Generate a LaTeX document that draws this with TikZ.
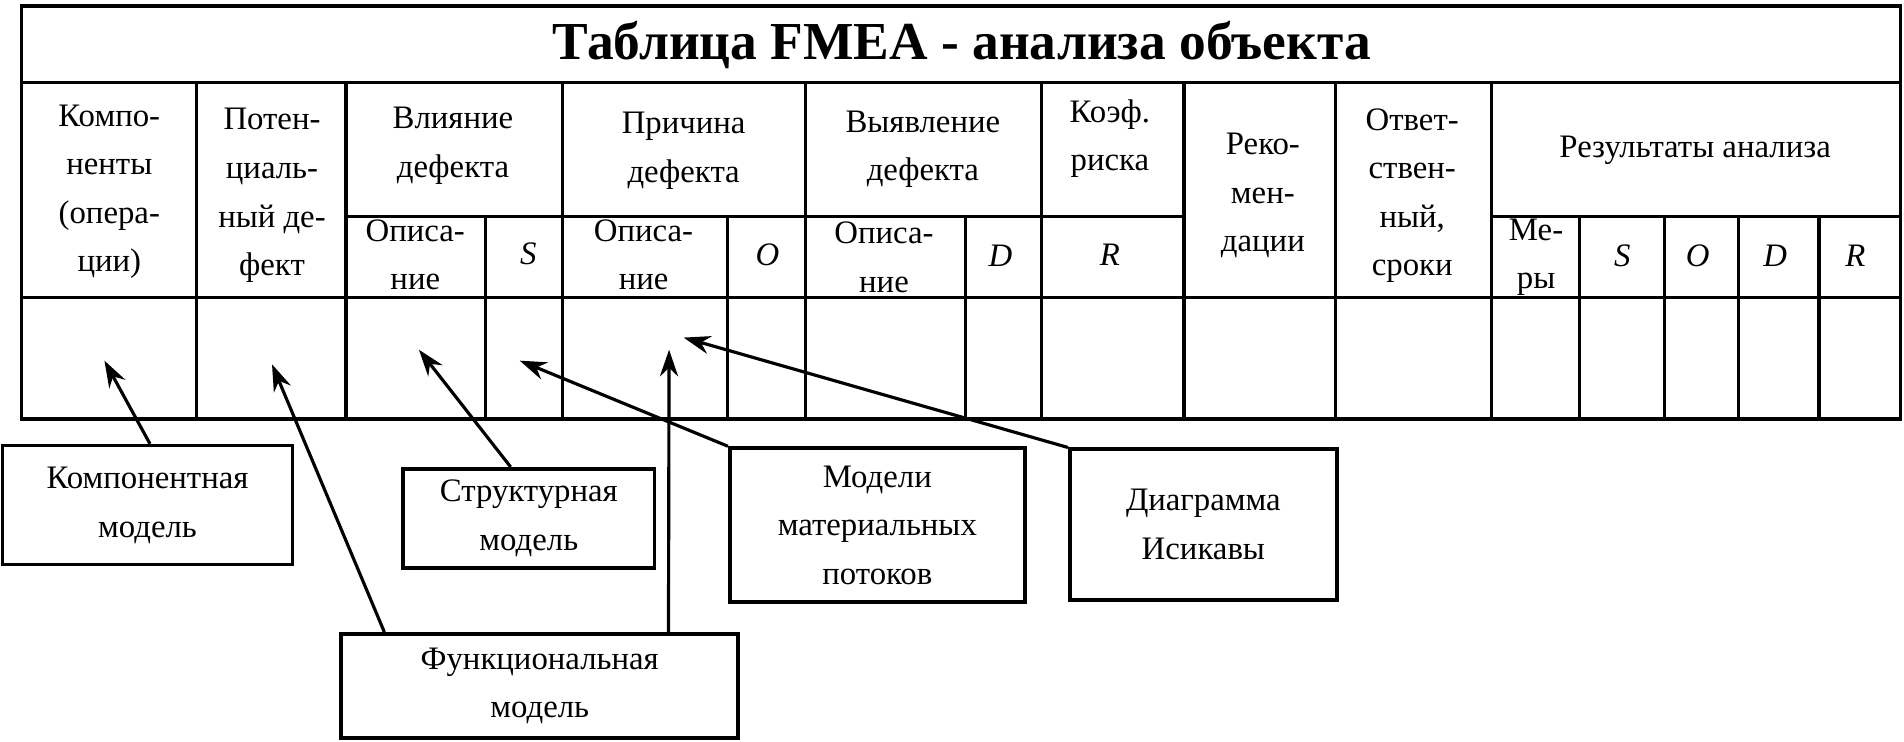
\documentclass[tikz,border=0pt]{standalone}
\usepackage{fontspec}
\setmainfont{Liberation Serif}
\usetikzlibrary{arrows.meta}
\begin{document}
\begin{tikzpicture}[x=1pt,y=-1pt,line width=2.6pt,
 tx/.style={align=center,font=\fontsize{27}{40}\selectfont,inner sep=0pt},
 it/.style={font=\fontsize{27}{40}\selectfont\itshape,inner sep=0pt},
 bx/.style={draw,line width=3pt,align=center,font=\fontsize{27}{40}\selectfont,inner sep=0pt},
 ar/.style={line width=2.6pt,-{Stealth[length=22pt,width=15pt]}}]
\useasboundingbox (0,0) rectangle (1568,611);
% table
\draw (18,5) rectangle (1565,345);
\draw (18,68) -- (1565,68);
\draw (18,245) -- (1565,245);
\draw (285,178) -- (975,178);
\draw (1228,178) -- (1565,178);
\foreach \x in {162,285,463,663,858,975,1100,1228} \draw (\x,68) -- (\x,345);
\foreach \x in {400,599,795,1301,1371,1432,1498} \draw (\x,178) -- (\x,345);
\node[font=\fontsize{44}{50}\selectfont\bfseries] (title) at (792,37) {Таблица FMEA - анализа объекта};
\node[tx] (h1) at (90,158) {Компо-\\ненты\\(опера-\\ции)};
\node[tx] (h2) at (224,161) {Потен-\\циаль-\\ный де-\\фект};
\node[tx] (h3) at (373,120) {Влияние\\дефекта};
\node[tx] (h4) at (563,124) {Причина\\дефекта};
\node[tx] (h5) at (760,123) {Выявление\\дефекта};
\node[tx] (h6) at (914,114) {Коэф.\\риска};
\node[tx] (h7) at (1040,161) {Реко-\\мен-\\дации};
\node[tx] (h8) at (1163,161) {Ответ-\\ствен-\\ный,\\сроки};
\node[tx] (h9) at (1396,124) {Результаты анализа};
\node[tx] (d1) at (342,210) {Описа-\\ние};
\node[tx] (d2) at (530,210) {Описа-\\ние};
\node[tx] (d3) at (728,212) {Описа-\\ние};
\node[tx] (d4) at (1265,212) {Ме-\\ры};
\node[it] (s1) at (435,209) {S};
\node[it] (o1) at (632,210) {O};
\node[it] (dd) at (824,211) {D};
\node[it] (r1) at (914,210) {R};
\node[it] (s2) at (1336,211) {S};
\node[it] (o2) at (1398,211) {O};
\node[it] (d2b) at (1462,211) {D};
\node[it] (r2) at (1528,211) {R};
% boxes
\node[bx,minimum width=239pt,minimum height=98pt] (b1) at (121.5,416) {Компонентная\\модель};
\node[bx,minimum width=207pt,minimum height=82pt] (b2) at (435.5,427) {Структурная\\модель};
\node[bx,minimum width=243pt,minimum height=127pt] (b3) at (722.5,432.5) {Модели\\материальных\\потоков};
\node[bx,minimum width=220pt,minimum height=124pt] (b4) at (991,432) {Диаграмма\\Исикавы};
\node[bx,minimum width=327pt,minimum height=86pt] (b5) at (444.5,565) {Функциональная\\модель};
\coordinate (t1) at (86,297);
\coordinate (t2) at (224,300);
\coordinate (t3) at (345,288);
\coordinate (t4) at (428,297);
\coordinate (t5) at (551,288);
\coordinate (t6) at (563,278);
\draw[ar] (b1.north) ++(2,0) -- (t1);
\draw[ar] (b5.north west) ++(37,0) -- (t2);
\draw[ar] (b2.north) ++(-15,0) -- (t3);
\draw[ar] (b3.north west) -- (t4);
\draw[ar] (b5.north) ++(106,0) -- (t5);
\draw[ar] (b4.north west) -- (t6);
\end{tikzpicture}
\end{document}
